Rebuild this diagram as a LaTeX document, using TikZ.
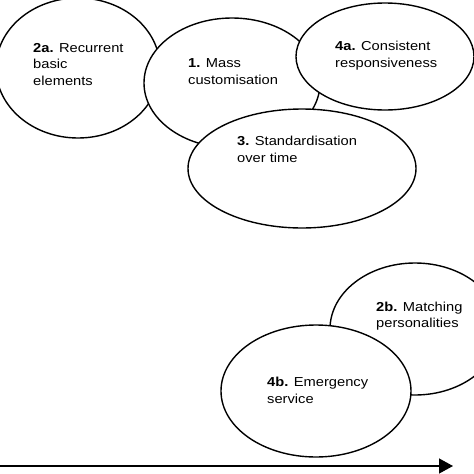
\documentclass[tikz,border=0pt]{standalone}
\usepackage{fontspec}
\setmainfont{Liberation Sans}[FakeStretch=1.13]
\usetikzlibrary{shapes.geometric,arrows.meta}
\tikzset{
  oval/.style={ellipse, draw=black, fill=white, line width=1.4pt, inner sep=0pt},
  lbl/.style={anchor=base west, align=left, inner sep=0pt, font=\fontsize{13}{16.3}\selectfont},
  axis/.style={line width=1.3pt, -{Triangle[length=14pt,width=15pt]}}
}
\begin{document}
\begin{tikzpicture}[x=1pt,y=-1pt]
\useasboundingbox (0,0) rectangle (474,474);
% upper cluster
\node[oval, minimum width=164pt, minimum height=140pt] (e2a) at (78,68) {};
\node[oval, minimum width=176pt, minimum height=130pt] (e1) at (232,83) {};
\node[oval, minimum width=178pt, minimum height=107pt] (e4a) at (385,56.5) {};
\node[oval, minimum width=228pt, minimum height=119pt] (e3) at (302,168.5) {};
% labels (anchored at the baseline of their last line)
\node[lbl] (t2a) at (33,85.2) {\textbf{2a.} Recurrent\\basic\\elements};
\node[lbl] (t1) at (188,84) {\textbf{1.} Mass\\customisation};
\node[lbl] (t4a) at (335,67) {\textbf{4a.} Consistent\\responsiveness};
\node[lbl] (t3) at (237,162) {\textbf{3.} Standardisation\\over time};
% lower cluster
\node[oval, minimum width=170pt, minimum height=132pt] (e2b) at (415,329) {};
\node[oval, minimum width=190pt, minimum height=132pt] (e4b) at (316,391) {};
\node[lbl] (t2b) at (376,327.5) {\textbf{2b.} Matching\\personalities};
\node[lbl] (t4b) at (267,403) {\textbf{4b.} Emergency\\service};
% time axis
\coordinate (a0) at (0,466);
\coordinate (a1) at (453,466);
\draw[axis] (a0) -- (a1);
\end{tikzpicture}
\end{document}
